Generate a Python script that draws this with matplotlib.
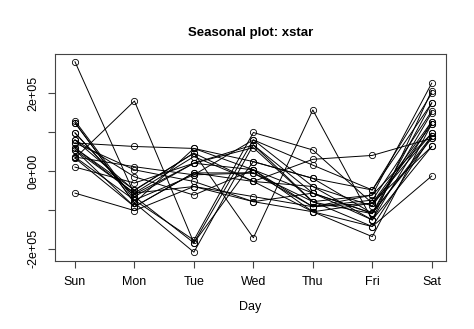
import numpy as np
import matplotlib.pyplot as plt

plt.rcParams['font.family'] = ['Liberation Sans', 'DejaVu Sans']

days = ['Sun', 'Mon', 'Tue', 'Wed', 'Thu', 'Fri', 'Sat']

# one row per week, values in thousands
weeks = [
    [281, -60, 20, 60, -80, -110, 150],
    [33, 180, -185, 80, -40, -90, 120],
    [129, -75, -178, 99, 54, -83, 97],
    [124, -82, -209, 67, -57, -126, 207],
    [98, -66, -185, 24, -19, -109, 175],
    [80, -50, 46, -172, 157, -126, 63],
    [72, 63, 58, 3, -92, -62, 226],
    [59, -57, 37, -27, 30, 40, 84],
    [54, -92, -5, -5, -79, -143, -13],
    [36, 11, -10, 80, 15, -49, 200],
    [10, -31, 20, 3, -105, -169, 121],
    [-57, -102, -40, -66, -92, -75, 154],
    [72, 3, -27, -79, -105, -83, 127],
    [80, -15, -62, 3, -57, -109, 90],
    [59, -49, 46, -27, -40, -126, 127],
    [98, -66, 20, 67, -79, -62, 97],
    [36, -75, -10, -5, -92, -83, 63],
    [124, -82, 58, 24, -19, -49, 175],
    [54, -57, -40, -79, -57, -109, 84],
    [33, -92, -5, -27, -105, -143, 90],
]

fig = plt.figure(figsize=(4.74, 3.29), dpi=100)
ax = fig.add_axes([55/474, 1 - 261/329, 391/474, 207/329])

x = np.arange(1, 8)
for w in weeks:
    ax.plot(x, np.array(w) * 1000, '-', color='black', lw=0.7,
            marker='o', mfc='none', mec='black', ms=4.5, mew=0.6)

ax.set_xlim(0.664, 7.24)
ax.set_ylim(-231700, 301000)
ax.set_xticks(x)
ax.set_xticklabels(days)
ax.set_yticks([-2e5, -1e5, 0, 1e5, 2e5])
ax.set_yticklabels(['-2e+05', '', '0e+00', '', '2e+05'], rotation=90, va='center')
ax.tick_params(labelsize=9, length=5, width=0.8, pad=6, color='#444444')
for s in ax.spines.values():
    s.set_linewidth(0.8)
    s.set_color('#444444')
ax.set_xlabel('Day', fontsize=9, labelpad=9)
ax.set_title('Seasonal plot: xstar', fontsize=9.5, fontweight='bold', pad=13)

fig.savefig('out.png', dpi=100)
